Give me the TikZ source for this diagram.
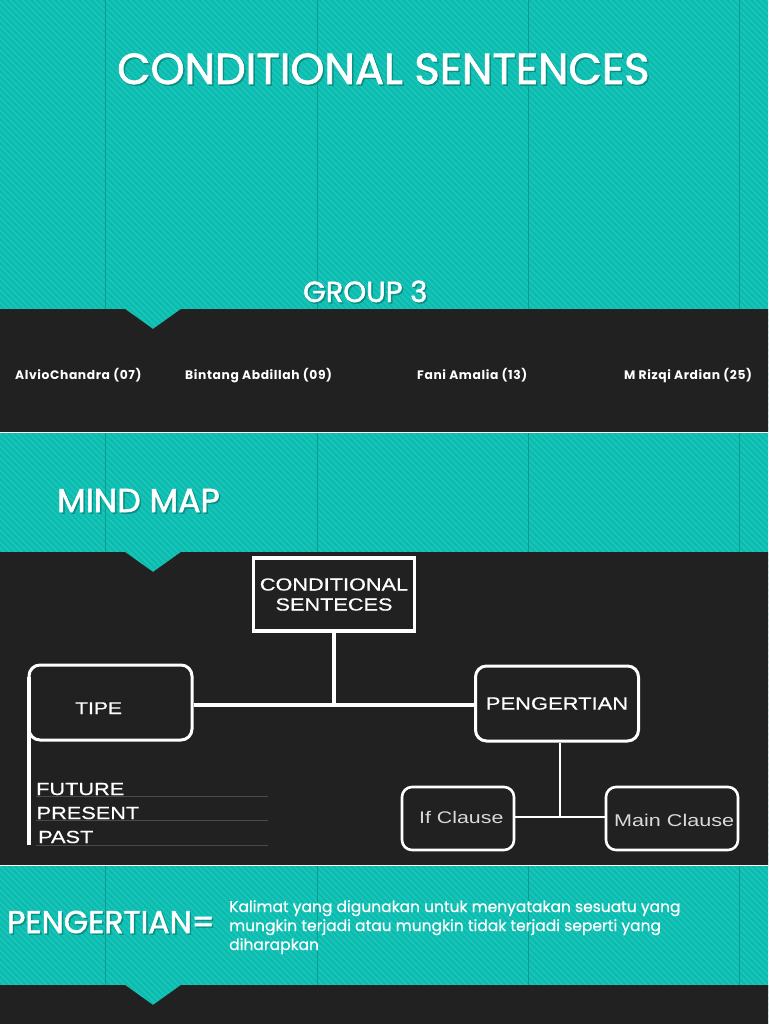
\documentclass[tikz,border=0pt]{standalone}
\usepackage{fontspec}
\setmainfont{Poppins}
\newfontfamily\headf[FakeBold=1.6]{Poppins}
\newfontfamily\bodyf[FakeBold=0.5]{Poppins}
\newfontfamily\persf[LetterSpace=5]{Poppins}
\newfontfamily\arialw[FakeStretch=1.24,FakeBold=0.5]{Liberation Sans}
\newfontfamily\arialt[FakeStretch=1.27]{Liberation Sans}
\definecolor{teal1}{HTML}{0DBBAE}
\definecolor{teal2}{HTML}{18C5B8}
\definecolor{teal3}{HTML}{0A9C90}
\definecolor{tealsh}{HTML}{0A8F84}
\definecolor{darkbg}{HTML}{212121}
\definecolor{rulegray}{HTML}{4A4A4A}
\newcommand\shadowed[1]{\leavevmode\rlap{\raisebox{-1.5pt}{\hspace{1.5pt}\textcolor{tealsh}{#1}}}#1}
\tikzset{
  band/.style={fill=darkbg,draw=none},
  sq/.style={draw=white,line width=3.6pt,minimum width=161pt,minimum height=73pt,inner sep=0pt,align=center,text=white,font=\arialw\fontsize{17.5}{21}\selectfont},
  rbox/.style={draw=white,line width=3pt,rounded corners=11pt,inner sep=0pt,text=white,font=\arialw\fontsize{17}{20}\selectfont},
  rsmall/.style={draw=white,line width=2.6pt,rounded corners=10pt,inner sep=0pt,text=white!85!black,font=\arialt\fontsize{16.8}{20}\selectfont},
  conn/.style={draw=white,line width=3.8pt},
  connthin/.style={draw=white,line width=2.6pt},
  slidetxt/.style={anchor=base west,inner sep=0pt,text=white},
  itemtxt/.style={anchor=base west,inner sep=0pt,text=white,font=\arialw\fontsize{17.5}{20}\selectfont},
  persontxt/.style={anchor=base west,inner sep=0pt,text=white,font=\persf\fontsize{12.3}{14}\selectfont\bfseries},
}
\begin{document}
\begin{tikzpicture}[x=1pt,y=-1pt]
\useasboundingbox (0,0) rectangle (768,1024);
% patterned background
\fill[teal1] (0,0) rectangle (768,1024);
\begin{scope}
\clip (0,0) rectangle (768,1024);
\foreach \i in {-1100,-1094,...,770}{
  \draw[teal2,line width=2pt] (\i,0) -- ({\i+1024},1024);
}
\end{scope}
\foreach \x in {105,317,528,739}{\draw[teal3,line width=0.7pt] (\x,0) -- (\x,1024);}
% dark bands with notches
\fill[band] (0,309) -- (125,309) -- (153,329) -- (181,309) -- (768,309) -- (768,432) -- (0,432) -- cycle;
\fill[band] (0,552) -- (125,552) -- (153,572) -- (181,552) -- (768,552) -- (768,865) -- (0,865) -- cycle;
\fill[band] (0,985) -- (125,985) -- (153,1005) -- (181,985) -- (768,985) -- (768,1024) -- (0,1024) -- cycle;
\draw[white,line width=0.9pt] (0,432.5) -- (768,432.5);
\draw[white,line width=0.9pt] (0,865.5) -- (768,865.5);
% slide text
\node[slidetxt,font=\headf\fontsize{43.3}{50}\selectfont] (title) at (117,84) {\shadowed{CONDITIONAL SENTENCES}};
\node[slidetxt,font=\headf\fontsize{29}{34}\selectfont] (group) at (303,302) {\shadowed{GROUP 3}};
\node[persontxt] (n1) at (15,379) {AlvioChandra (07)};
\node[persontxt] (n2) at (185,379) {Bintang Abdillah (09)};
\node[persontxt] (n3) at (417,379) {Fani Amalia (13)};
\node[persontxt] (n4) at (624,379) {M Rizqi Ardian (25)};
\node[slidetxt,font=\headf\fontsize{33.2}{38}\selectfont] (mm) at (57,512) {\shadowed{MIND MAP}};
\node[slidetxt,font=\headf\fontsize{31.5}{36}\selectfont] (pg) at (7,933) {\shadowed{PENGERTIAN=}};
\node[slidetxt,font=\bodyf\fontsize{15.5}{19}\selectfont,align=left,anchor=north west] (def) at (229,900) {Kalimat yang digunakan untuk menyatakan sesuatu yang\\mungkin terjadi atau mungkin tidak terjadi seperti yang\\diharapkan};
% mind map
\coordinate (j1) at (334,705);
\coordinate (j2) at (560,817);
\coordinate (ltop) at (29,677);
\coordinate (lbot) at (29,845);
\node[sq] (main) at (334,594.5) {CONDITIONAL\\[-1pt]SENTECES};
\node[rbox,minimum width=163pt,minimum height=75pt] (tipe) at (110.5,702.5) {};
\node[anchor=base west,inner sep=0pt,text=white,font=\arialw\fontsize{17}{20}\selectfont] (tipet) at (75,714) {TIPE};
\node[rbox,minimum width=163pt,minimum height=75pt,font=\arialw\fontsize{17.7}{20}\selectfont] (peng) at (557,703.5) {PENGERTIAN};
\node[rsmall,minimum width=112pt,minimum height=63pt] (ifc) at (458,818.5) {};
\node[anchor=base west,inner sep=0pt,text=white!85!black,font=\arialt\fontsize{16.8}{20}\selectfont] (ift) at (419,823) {If Clause};
\node[rsmall,minimum width=132pt,minimum height=63pt] (mainc) at (672,818.5) {};
\node[anchor=base west,inner sep=0pt,text=white!85!black,font=\arialt\fontsize{17}{20}\selectfont] (maint) at (614,826) {Main Clause};
\draw[conn] (main.south) -- (j1);
\draw[conn] (j1 -| tipe.east) -- (j1 -| peng.west);
\draw[connthin] (j2 |- peng.south) -- (j2);
\draw[connthin] (j2 -| ifc.east) -- (j2 -| mainc.west);
\draw[draw=white,line width=4.5pt] (ltop) -- (lbot);
% list
\coordinate (r1) at (36,796.5);
\coordinate (r2) at (36,820);
\coordinate (r3) at (36,845);
\foreach \r in {r1,r2,r3}{\draw[rulegray,line width=0.7pt] (\r) -- ++(232,0);}
\node[itemtxt] (fu) at (36,795) {FUTURE};
\node[itemtxt] (pr) at (36.5,819) {PRESENT};
\node[itemtxt] (pa) at (38,843) {PAST};
\end{tikzpicture}
\end{document}
